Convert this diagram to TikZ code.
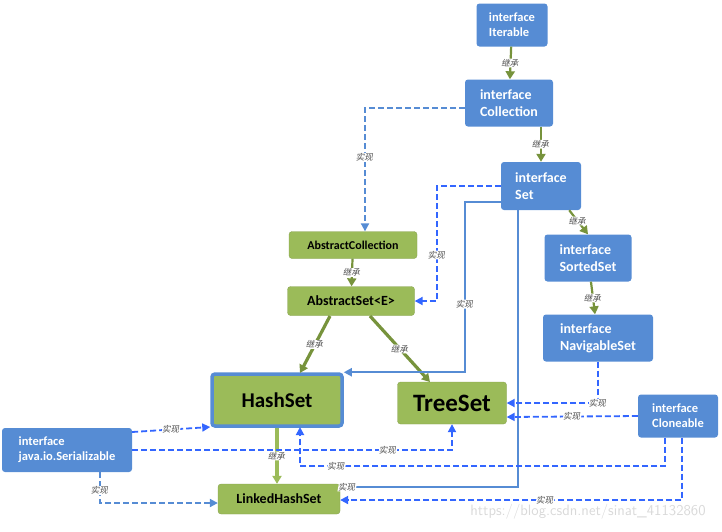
\documentclass[tikz,border=0pt]{standalone}
\usepackage{fontspec}
\setmainfont{Carlito}
\newfontfamily\cjk{Noto Sans CJK SC}
\usetikzlibrary{arrows.meta}
\definecolor{bl}{HTML}{568CD4}
\definecolor{gr}{HTML}{9BBB59}
\definecolor{dg}{HTML}{77933C}
\definecolor{db}{HTML}{3366FF}
\begin{document}
\begin{tikzpicture}[x=1pt,y=-1pt,
 ib/.style={fill=bl,rounded corners=3pt,text=white,font=\bfseries\fontsize{12.5}{15}\selectfont,align=left,inner sep=3pt},
 gb/.style={fill=gr,draw=gr!85!black,line width=0.3pt,rounded corners=3pt,text=black,font=\bfseries,inner sep=2pt},
 lab/.style={fill=white,inner sep=0.5pt,font=\cjk\fontsize{8.5}{9}\selectfont,text=black!70,xslant=0.2},
 inh/.style={draw=dg,line width=2.2pt,-{Triangle[length=8pt,width=9pt]}},
 impl/.style={draw=db,line width=1.8pt,dash pattern=on 6pt off 3pt,-{Triangle[length=8pt,width=8pt]}},
 sol/.style={draw=bl,line width=2pt,-{Triangle[length=8pt,width=8pt]}}]
\useasboundingbox (0,0) rectangle (722,531);
\node[ib,minimum width=71,minimum height=43] (it) at (512,25) {interface\\Iterable};
\node[ib,minimum width=88,minimum height=47,font=\bfseries\fontsize{14}{17}\selectfont] (co) at (509,103) {interface\\Collection};
\node[ib,minimum width=80,minimum height=48,font=\bfseries\fontsize{14}{17}\selectfont] (se) at (541,186) {interface\\Set};
\node[ib,minimum width=87,minimum height=47,font=\bfseries\fontsize{14}{17}\selectfont] (so) at (588,258) {interface\\SortedSet};
\node[ib,minimum width=110,minimum height=47,font=\bfseries\fontsize{14}{17}\selectfont] (na) at (598,338) {interface\\NavigableSet};
\node[gb,minimum width=128,minimum height=27,font=\bfseries\fontsize{12}{14}\selectfont] (ac) at (353,245) {AbstractCollection};
\node[gb,minimum width=127,minimum height=29,font=\bfseries\fontsize{14}{16}\selectfont] (as) at (351,301) {AbstractSet<E>};
\node[gb,draw=bl,line width=3.5pt,minimum width=130,minimum height=52,font=\bfseries\fontsize{21}{24}\selectfont] (hs) at (277,400) {HashSet};
\node[gb,minimum width=109,minimum height=42,font=\bfseries\fontsize{25}{28}\selectfont] (ts) at (452,403) {TreeSet};
\node[ib,minimum width=130,minimum height=44] (sr) at (67,450) {interface\\java.io.Serializable};
\node[ib,minimum width=80,minimum height=43] (cl) at (678,416) {interface\\Cloneable};
\node[gb,minimum width=122,minimum height=30,font=\bfseries\fontsize{14}{16}\selectfont] (lh) at (279,499) {LinkedHashSet};
\node[text=black!15,font=\sffamily\fontsize{15}{17}\selectfont] (wm) at (588,512) {https://blog.csdn.net/sinat\_41132860};
% inheritance
\draw[inh] (it) -- node[lab]{继承} (co);
\draw[inh] (co.south -| se) -- node[lab]{继承} (se);
\draw[inh] (se.south east) ++(-12,0) -- node[lab,pos=0.45]{继承} (so.north);
\draw[inh] (so) -- node[lab]{继承} (na);
\draw[inh] (ac) -- node[lab]{继承} (as);
\draw[inh,line width=3.2pt] (330,316) -- node[lab]{继承} (300,373);
\draw[inh,line width=3.2pt] (370,316) -- node[lab]{继承} (430,382);
\draw[inh,draw=gr,line width=3.2pt] (277,428) -- node[lab]{继承} (lh.north -| 277,0);
% implementations
\draw[impl,draw=bl] (co.west |- 0,108) -| node[lab,pos=0.7]{实现} (ac.north -| 365,0);
\draw[impl] (se.west) -- (437,186) |- node[lab,pos=0.3]{实现} (as.east);
\draw[sol] (se.west |- 0,202) -- (465,202) |- node[lab,pos=0.3]{实现} (hs.north east);
\draw[sol] (se.south -| 518,0) |- node[lab,pos=0.98]{实现} (lh.east |- 0,487);
\draw[impl] (na.south) |- node[lab,pos=0.5]{实现} (ts.east);
\draw[impl] (cl.west) -- node[lab,pos=0.5]{实现} (ts.east |- 0,417);
\draw[impl] (cl.south -| 665,0) -- (665,466) -| node[lab,pos=0.45]{实现} (300,427);
\draw[impl] (cl.south -| 682,0) |- node[lab,pos=0.7]{实现} (lh.east |- 0,500);
\draw[impl] (sr.north east |- 0,432) -- node[lab]{实现} (hs.south west |- 0,427);
\draw[impl] (sr.east |- 0,450) -| node[lab,pos=0.4]{实现} (ts.south);
\draw[impl,draw=bl] (sr.south -| 100,0) |- node[lab,pos=0.3]{实现} (lh.west |- 0,503);
\end{tikzpicture}
\end{document}
